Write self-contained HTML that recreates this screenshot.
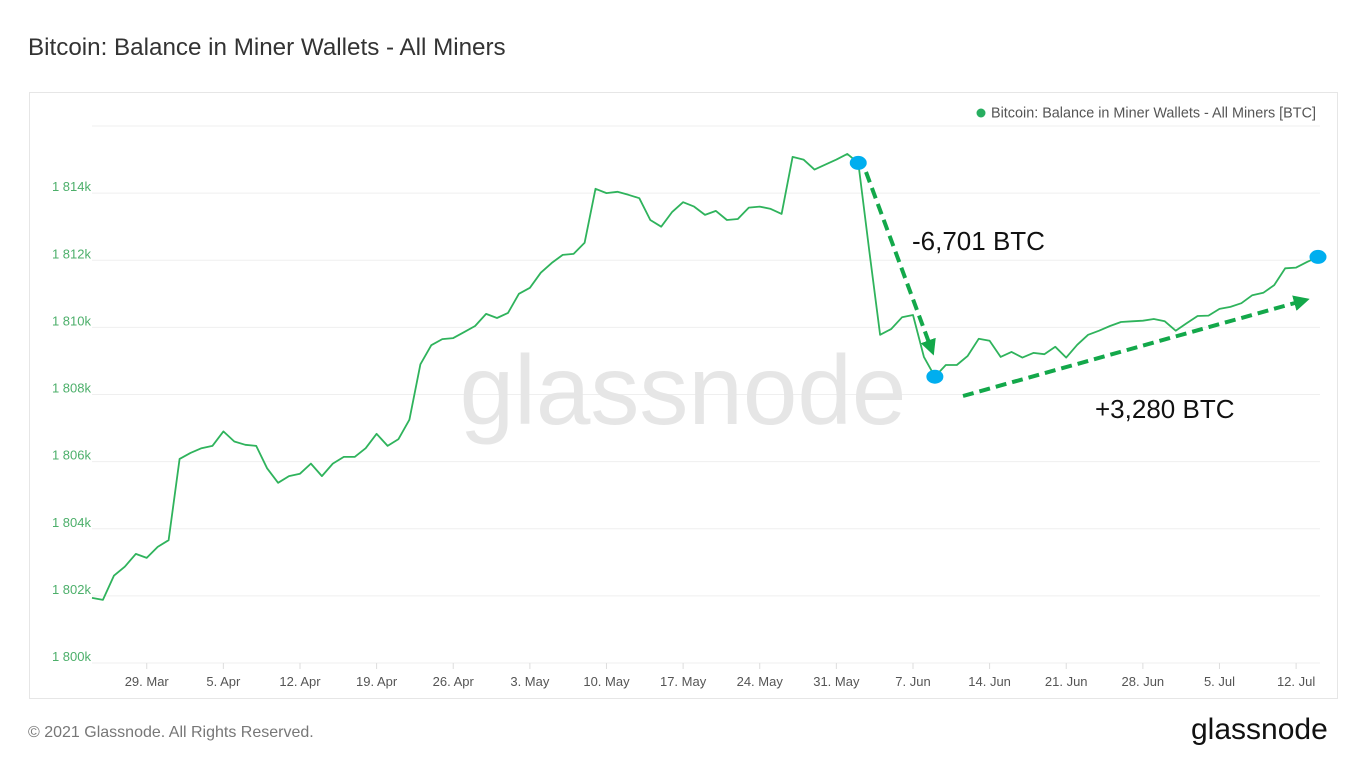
<!DOCTYPE html>
<html><head><meta charset="utf-8">
<style>
html,body{margin:0;padding:0;background:#fff;}
body{width:1366px;height:768px;overflow:hidden;position:relative;font-family:"Liberation Sans",sans-serif;}
</style></head>
<body>
<div style="position:absolute;left:28px;top:34px;font-size:24.2px;color:#333;">Bitcoin: Balance in Miner Wallets - All Miners</div>
<svg id="chart" width="1366" height="768" style="position:absolute;left:0;top:0;">
  <rect x="29.5" y="92.5" width="1308" height="606" fill="none" stroke="#e6e6e6"/>
  <g id="grid"></g>
  <text x="683" y="424" text-anchor="middle" font-size="98" fill="#e6e6e6" font-family="Liberation Sans, sans-serif">glassnode</text>
  <g id="series"></g>
  <g id="legend">
    <circle cx="981" cy="113" r="4.5" fill="#27ae60"/>
    <text x="991" y="117.5" font-size="14.4" fill="#555">Bitcoin: Balance in Miner Wallets - All Miners [BTC]</text>
  </g>
  <g id="annot"></g>
</svg>
<div style="position:absolute;left:28px;top:724px;font-size:16px;color:#777;">© 2021 Glassnode. All Rights Reserved.</div>
<div style="position:absolute;left:1191px;top:713px;font-size:30px;color:#111;letter-spacing:0px;">glassnode</div>
<script>
const yTicks = [1800, 1802, 1804, 1806, 1808, 1810, 1812, 1814, 1816];
const xTickLabels = ["29. Mar","5. Apr","12. Apr","19. Apr","26. Apr","3. May","10. May","17. May","24. May","31. May","7. Jun","14. Jun","21. Jun","28. Jun","5. Jul","12. Jul"];
const xTickDays = [5,12,19,26,33,40,47,54,61,68,75,82,89,96,103,110];
const balance = [
1801.94,1801.88,1802.6,1802.87,1803.25,1803.13,1803.46,1803.66,1806.08,1806.26,
1806.4,1806.47,1806.9,1806.6,1806.5,1806.47,1805.8,1805.37,1805.57,1805.64,
1805.94,1805.57,1805.94,1806.14,1806.14,1806.4,1806.83,1806.47,1806.67,1807.25,
1808.9,1809.47,1809.65,1809.68,1809.86,1810.04,1810.4,1810.28,1810.43,1811.0,
1811.18,1811.63,1811.92,1812.16,1812.19,1812.52,1814.13,1814.0,1814.04,1813.95,
1813.85,1813.2,1813.0,1813.44,1813.73,1813.6,1813.35,1813.47,1813.2,1813.23,
1813.57,1813.6,1813.53,1813.38,1815.08,1815.0,1814.7,1814.85,1815.0,1815.17,
1814.9,1812.3,1809.78,1809.95,1810.3,1810.37,1809.12,1808.53,1808.88,1808.88,
1809.15,1809.66,1809.6,1809.12,1809.27,1809.1,1809.24,1809.2,1809.42,1809.1,
1809.48,1809.78,1809.9,1810.04,1810.16,1810.18,1810.2,1810.25,1810.18,1809.9,
1810.12,1810.34,1810.35,1810.55,1810.61,1810.72,1810.96,1811.03,1811.26,1811.76,
1811.78,1811.95,1812.1];
const highlightDays = [70, 77, 112];
const annotLabels = ["-6,701 BTC", "+3,280 BTC"];

const NS="http://www.w3.org/2000/svg";
const X0=92, X1=1318, Y0=663, Y1=126;
function x(d){return X0+(X1-X0)*d/(balance.length-1);}
function y(v){return Y0-(v-1800)/(16)*(Y0-Y1);}
function mk(tag,attrs,parent){const e=document.createElementNS(NS,tag);for(const k in attrs)e.setAttribute(k,attrs[k]);parent.appendChild(e);return e;}

const grid=document.getElementById('grid');
yTicks.forEach((t,i)=>{
  const yy=y(t);
  const l=mk('line',{x1:X0,x2:1320,y1:yy,y2:yy,stroke:'#efefef','stroke-width':1},grid);
  
  
  if(i<yTicks.length-1){
    const tx=mk('text',{x:91,y:yy-2,'text-anchor':'end','font-size':13,fill:'#4caf6a'},grid);
    tx.textContent='1 '+t.toString().slice(1)+'k';
    
    
  }
});
xTickDays.forEach((d,i)=>{
  const xx=x(d);
  const tk=mk('line',{x1:xx,x2:xx,y1:663,y2:669,stroke:'#ddd'},grid);
  
  
  const tx=mk('text',{x:xx,y:686,'text-anchor':'middle','font-size':13,fill:'#555'},grid);
  tx.textContent=xTickLabels[i];
  
  
});

const series=document.getElementById('series');
const pts=balance.map((v,i)=>x(i).toFixed(1)+','+y(v).toFixed(1)).join(' ');
const line=mk('polyline',{points:pts,fill:'none',stroke:'#2fb35c','stroke-width':1.8,'stroke-linejoin':'round'},series);



const an=document.getElementById('annot');
const defs=mk('defs',{},an);
const mkr=mk('marker',{id:'ah',markerWidth:4,markerHeight:4,refX:2,refY:2,orient:'auto',markerUnits:'strokeWidth'},defs);
mk('path',{d:'M0,0 L4,2 L0,4 Z',fill:'#13a84a'},mkr);
const a1=mk('line',{x1:866,y1:172,x2:931,y2:348,stroke:'#13a84a','stroke-width':4,'stroke-dasharray':'11 6','marker-end':'url(#ah)'},an);


const a2=mk('line',{x1:963,y1:396,x2:1302,y2:301,stroke:'#13a84a','stroke-width':4,'stroke-dasharray':'11 6','marker-end':'url(#ah)'},an);


highlightDays.forEach(d=>{
  const c=mk('ellipse',{cx:x(d),cy:y(balance[d]),rx:8.5,ry:7,fill:'#00aeef'},an);
  
  
});
const t1=mk('text',{x:912,y:250,'font-size':26,fill:'#111'},an);
t1.textContent=annotLabels[0];


const t2=mk('text',{x:1095,y:418,'font-size':26,fill:'#111'},an);
t2.textContent=annotLabels[1];


</script>
</body></html>
